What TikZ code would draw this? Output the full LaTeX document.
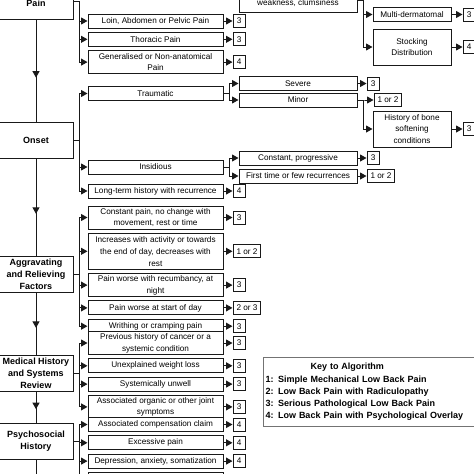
\documentclass[tikz,border=0pt]{standalone}
\usepackage{fontspec}
\setmainfont{Liberation Sans}
\usetikzlibrary{arrows.meta,positioning,decorations.markings}

\begin{document}
\begin{tikzpicture}[x=1pt,y=1pt,every node/.style={font=\fontsize{8.2}{11.8}\selectfont},category/.style={rectangle,draw=black!90,line width=1pt,fill=white,minimum width=74pt,minimum height=36pt,inner sep=1pt,align=center,font=\fontsize{9}{12}\selectfont\bfseries},option/.style={rectangle,draw=black!90,line width=1pt,fill=white,minimum width=135pt,minimum height=14pt,inner sep=1pt,align=center},suboption/.style={rectangle,draw=black!90,line width=1pt,fill=white,minimum width=118pt,minimum height=14pt,inner sep=1pt,align=center},detail/.style={rectangle,draw=black!90,line width=1pt,fill=white,minimum width=78pt,minimum height=14pt,inner sep=1pt,align=center},result/.style={rectangle,draw=black!90,line width=1pt,fill=white,minimum width=12.5pt,minimum height=13pt,inner xsep=3.5pt,inner ysep=1pt},keybox/.style={rectangle,draw=black!55,line width=1pt,fill=white,text width=207pt,minimum height=69pt,inner xsep=2pt,align=left,font=\fontsize{9}{12.3}\selectfont\bfseries},arrow/.style={-{Triangle[length=6.5pt,width=7pt]},line width=1pt,draw=black!90},midarrow/.style={line width=1pt,draw=black!90,postaction={decorate},decoration={markings,mark=at position 0.57 with {\arrow{Triangle[length=6.5pt,width=7pt]}}}}]
\useasboundingbox(0,0)rectangle(474,-474);\clip(0,0)rectangle(474,-474);
\node[category](pain)at(36,-1){\mbox{}\\Pain};
\node[category](onset)at(36,-140){Onset};
\node[category](aggrav)at(36,-274){Aggravating\\and Relieving\\Factors};
\node[category](medhist)at(36,-373){Medical History\\and Systems\\Review};
\node[category](psych)at(36,-441){Psychosocial\\History};
\coordinate(nextcat)at(36,-490);
\draw[midarrow](pain.south)--(onset.north);\draw[midarrow](onset.south)--(aggrav.north);\draw[midarrow](aggrav.south)--(medhist.north);\draw[midarrow](medhist.south)--(psych.north);\draw[line width=1pt,draw=black!90](psych.south)--(nextcat);
\node[option](loin)at(155.5,-21){Loin, Abdomen or Pelvic Pain};
\node[option,below=3.3pt of loin](thoracic){Thoracic Pain};
\node[option,minimum height=23pt,below=3.3pt of thoracic](general){Generalised or Non-anatomical\\Pain};
\node[result,right=9pt of loin](loinres){3};
\node[result,right=9pt of thoracic](thoracicres){3};
\node[result,right=9pt of general](generalres){4};
\draw[arrow](pain.east)--++(6,0)|-(loin.west);\draw[arrow](pain.east)--++(6,0)|-(thoracic.west);\draw[arrow](pain.east)--++(6,0)|-(general.west);\draw[arrow](loin)--(loinres);\draw[arrow](thoracic)--(thoracicres);\draw[arrow](general)--(generalres);
\node[suboption,minimum height=23pt](weakness)at(298,-0.5){\mbox{}\\weakness, clumsiness};
\node[detail](multi)at(412,-14.5){Multi-dermatomal};
\node[detail,minimum height=36pt](stocking)at(412,-47){Stocking\\Distribution};
\node[result,right=11pt of multi](multires){3};
\node[result,right=11pt of stocking](stockingres){4};
\draw[arrow](weakness.east)--++(6,0)|-(multi.west);\draw[arrow](weakness.east)--++(6,0)|-(stocking.west);\draw[arrow](multi)--(multires);\draw[arrow](stocking)--(stockingres);
\node[option](traumatic)at(155.5,-93.5){Traumatic};
\node[suboption](severe)at(298,-83.5){Severe};
\node[suboption](minor)at(298,-100){Minor};
\node[result,right=9pt of severe](severeres){3};
\node[result,right=16pt of minor](minorres){1 or 2};
\node[detail,minimum height=36pt](bone)at(412,-129){History of bone\\softening\\conditions};
\node[result,right=11pt of bone](boneres){3};
\node[option](insidious)at(155.5,-167){Insidious};
\node[suboption](constprog)at(298,-158){Constant, progressive};
\node[suboption,below=3pt of constprog](firsttime){First time or few recurrences};
\node[result,right=9pt of constprog](constprogres){3};
\node[result,right=9pt of firsttime](firsttimeres){1 or 2};
\node[option](longterm)at(155.5,-191){Long-term history with recurrence};
\node[result,right=9pt of longterm](longtermres){4};
\draw[arrow](onset.east)--++(6,0)|-(traumatic.west);\draw[arrow](onset.east)--++(6,0)|-(insidious.west);\draw[arrow](onset.east)--++(6,0)|-(longterm.west);\draw[arrow](traumatic.east)--++(6,0)|-(severe.west);\draw[arrow](traumatic.east)--++(6,0)|-(minor.west);\draw[arrow](minor.east)--++(6,0)|-(minorres.west);\draw[arrow](minor.east)--++(6,0)|-(bone.west);\draw[arrow](severe)--(severeres);\draw[arrow](bone)--(boneres);\draw[arrow](insidious.east)--++(6,0)|-(constprog.west);\draw[arrow](insidious.east)--++(6,0)|-(firsttime.west);\draw[arrow](constprog)--(constprogres);\draw[arrow](firsttime)--(firsttimeres);\draw[arrow](longterm)--(longtermres);
\node[option,minimum height=23pt](nochange)at(155.5,-217.5){Constant pain, no change with\\movement, rest or time};
\node[option,minimum height=36pt,below=3.3pt of nochange](activity){Increases with activity or towards\\the end of day, decreases with\\rest};
\node[option,minimum height=23pt,below=3.3pt of activity](recumb){Pain worse with recumbancy, at\\night};
\node[option,below=3.3pt of recumb](startday){Pain worse at start of day};
\node[option,below=3.3pt of startday](writhing){Writhing or cramping pain};
\node[result,right=9pt of nochange](nochangeres){3};
\node[result,right=9pt of activity](activityres){1 or 2};
\node[result,right=9pt of recumb](recumbres){3};
\node[result,right=9pt of startday](startdayres){2 or 3};
\node[result,right=9pt of writhing](writhingres){3};
\draw[arrow](aggrav.east)--++(6,0)|-(nochange.west);\draw[arrow](aggrav.east)--++(6,0)|-(activity.west);\draw[arrow](aggrav.east)--++(6,0)|-(recumb.west);\draw[arrow](aggrav.east)--++(6,0)|-(startday.west);\draw[arrow](aggrav.east)--++(6,0)|-(writhing.west);\draw[arrow](nochange)--(nochangeres);\draw[arrow](activity)--(activityres);\draw[arrow](recumb)--(recumbres);\draw[arrow](startday)--(startdayres);\draw[arrow](writhing)--(writhingres);
\node[option,minimum height=23pt](cancer)at(155.5,-343){Previous history of cancer or a\\systemic condition};
\node[option,below=3.3pt of cancer](weight){Unexplained weight loss};
\node[option,below=3.3pt of weight](unwell){Systemically unwell};
\node[option,minimum height=23pt,below=3.3pt of unwell](organic){Associated organic or other joint\\symptoms};
\node[result,right=9pt of cancer](cancerres){3};
\node[result,right=9pt of weight](weightres){3};
\node[result,right=9pt of unwell](unwellres){3};
\node[result,right=9pt of organic](organicres){3};
\draw[arrow](medhist.east)--++(6,0)|-(cancer.west);\draw[arrow](medhist.east)--++(6,0)|-(weight.west);\draw[arrow](medhist.east)--++(6,0)|-(unwell.west);\draw[arrow](medhist.east)--++(6,0)|-(organic.west);\draw[arrow](cancer)--(cancerres);\draw[arrow](weight)--(weightres);\draw[arrow](unwell)--(unwellres);\draw[arrow](organic)--(organicres);
\node[option](compens)at(155.5,-424.5){Associated compensation claim};
\node[option,below=3.3pt of compens](excess){Excessive pain};
\node[option,below=3.3pt of excess](depress){Depression, anxiety, somatization};
\node[option,minimum height=36pt,below=3.3pt of depress](nextpsy){};
\node[result,right=9pt of compens](compensres){4};
\node[result,right=9pt of excess](excessres){4};
\node[result,right=9pt of depress](depressres){4};
\draw[arrow](psych.east)--++(6,0)|-(compens.west);\draw[arrow](psych.east)--++(6,0)|-(excess.west);\draw[arrow](psych.east)--++(6,0)|-(depress.west);\draw[arrow](psych.east)--++(6,0)|-(nextpsy.west);\draw[arrow](compens)--(compensres);\draw[arrow](excess)--(excessres);\draw[arrow](depress)--(depressres);
\node[keybox,anchor=north west](key)at(263,-357){\hspace*{45pt}Key to Algorithm\\1: Simple Mechanical Low Back Pain\\2: Low Back Pain with Radiculopathy\\3: Serious Pathological Low Back Pain\\4: Low Back Pain with Psychological Overlay};
\end{tikzpicture}
\end{document}
